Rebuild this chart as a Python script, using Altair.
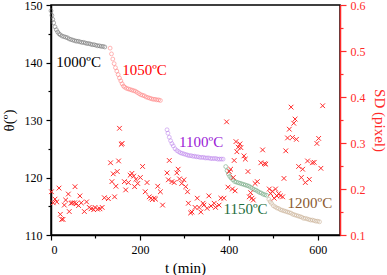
import altair as alt
import pandas as pd

# ---- contact angle series (t in min, theta in degrees) ----
t_1000 = [0, 2, 4, 6, 9, 12, 15, 18, 21, 25, 29, 33, 37, 41, 45, 49, 53, 57, 61, 65, 69, 73, 77, 81, 85,
          89, 93, 97, 101, 105, 109, 113, 117, 121]
th_1000 = [149.0, 148.2, 147.5, 146.9, 146.2, 145.7, 145.3, 145.0, 144.8, 144.6, 144.5, 144.4, 144.3,
           144.1, 144.0, 143.9, 143.8, 143.7, 143.7, 143.6, 143.5, 143.5, 143.4, 143.3, 143.3, 143.2,
           143.1, 143.1, 143.0, 142.9, 142.9, 142.8, 142.8, 142.7]

t_1050 = [133, 136, 139, 142, 145, 148, 151, 154, 157, 160, 163, 166, 170, 174, 178, 182, 186, 190, 194,
          198, 202, 206, 210, 214, 218, 222, 226, 230, 234, 238, 242, 246]
th_1050 = [142.5, 141.5, 140.6, 139.8, 139.1, 138.5, 137.9, 137.3, 136.8, 136.3, 135.9, 135.7, 135.5,
           135.4, 135.3, 135.2, 135.1, 135.0, 134.8, 134.6, 134.4, 134.3, 134.2, 134.0, 133.9, 133.8,
           133.7, 133.6, 133.6, 133.5, 133.5, 133.4]

t_1100 = [261, 263, 266, 269, 272, 275, 279, 283, 287, 291, 295, 299, 303, 307, 311, 315, 319, 323, 327,
          331, 335, 339, 343, 347, 351, 355, 359, 363, 367, 371, 375, 379, 383, 387]
th_1100 = [128.3, 127.7, 127.0, 126.4, 125.9, 125.5, 125.0, 124.7, 124.5, 124.3, 124.2, 124.1, 124.0,
           123.9, 123.8, 123.8, 123.7, 123.7, 123.6, 123.6, 123.5, 123.5, 123.5, 123.4, 123.4, 123.4,
           123.3, 123.3, 123.3, 123.3, 123.2, 123.2, 123.2, 123.2]

t_1150 = [393, 396, 399, 402, 405, 409, 413, 417, 421, 425, 429, 433, 437, 441, 445, 449, 453, 457, 461,
          465, 469, 473, 477, 481, 485]
th_1150 = [121.9, 121.2, 120.6, 120.2, 119.9, 119.6, 119.3, 119.2, 119.1, 119.0, 118.9, 118.8, 118.7,
           118.6, 118.5, 118.3, 118.1, 117.9, 117.8, 117.6, 117.4, 117.3, 117.1, 117.0, 116.9]

t_1200 = [490, 493, 496, 500, 504, 508, 512, 516, 520, 524, 528, 532, 536, 540, 544, 548, 552, 556, 560,
          564, 568, 572, 576, 580, 584, 588, 592, 596, 600, 604]
th_1200 = [116.2, 115.8, 115.5, 115.1, 114.9, 114.7, 114.6, 114.4, 114.3, 114.2, 114.1, 114.0, 113.9,
           113.8, 113.6, 113.5, 113.4, 113.3, 113.2, 113.1, 112.9, 112.9, 112.8, 112.7, 112.6, 112.6,
           112.5, 112.4, 112.4, 112.3]

# ---- SD series (t in min, SD in pixel) ----
t_sd = [1, 5, 9, 13, 18, 21, 24, 27, 30, 33, 39, 41, 45, 48, 53, 54, 57, 62, 65, 68, 75, 80, 86, 90, 96, 99,
        105, 110, 115, 120, 129, 134, 137, 140, 143, 146, 149, 152, 154, 158, 160, 165, 168, 174, 178, 182,
        186, 188, 191, 195, 201, 206, 212, 216, 221, 225, 228, 232, 235, 240, 246, 251, 261, 264, 266, 272,
        277, 283, 286, 289, 294, 299, 303, 307, 309, 314, 317, 324, 329, 333, 337, 342, 344, 351, 355, 360,
        367, 370, 378, 382, 389, 395, 398, 401, 404, 408, 410, 412, 414, 416, 418, 421, 425, 427, 434, 437,
        443, 446, 449, 452, 455, 459, 464, 472, 476, 480, 483, 491, 494, 498, 502, 505, 508, 512, 516, 521,
        524, 528, 532, 536, 540, 543, 546, 549, 552, 557, 563, 566, 572, 577, 581, 588, 592, 598, 602, 607, 611]
sd_val = [0.194, 0.170, 0.178, 0.172, 0.202, 0.145, 0.134, 0.134, 0.165, 0.176, 0.189, 0.151, 0.169, 0.170,
          0.170, 0.205, 0.168, 0.164, 0.185, 0.170, 0.151, 0.172, 0.160, 0.157, 0.155, 0.160, 0.156, 0.157,
          0.160, 0.181, 0.179, 0.257, 0.216, 0.233, 0.183, 0.206, 0.238, 0.261, 0.332, 0.297, 0.299, 0.216,
          0.198, 0.214, 0.230, 0.234, 0.228, 0.205, 0.221, 0.212, 0.225, 0.249, 0.194, 0.214, 0.183, 0.180,
          0.177, 0.180, 0.178, 0.206, 0.194, 0.165, 0.235, 0.220, 0.262, 0.216, 0.214, 0.235, 0.243, 0.222,
          0.212, 0.220, 0.205, 0.194, 0.169, 0.148, 0.150, 0.160, 0.180, 0.160, 0.150, 0.169, 0.165, 0.158,
          0.185, 0.163, 0.169, 0.160, 0.165, 0.180, 0.180, 0.346, 0.204, 0.238, 0.243, 0.200, 0.225, 0.262,
          0.196, 0.303, 0.281, 0.291, 0.298, 0.290, 0.272, 0.265, 0.238, 0.183, 0.192, 0.180, 0.176, 0.212,
          0.216, 0.257, 0.285, 0.255, 0.254, 0.200, 0.190, 0.195, 0.180, 0.200, 0.185, 0.190, 0.185, 0.183,
          0.223, 0.283, 0.311, 0.330, 0.378, 0.312, 0.343, 0.352, 0.308, 0.249, 0.225, 0.243, 0.214, 0.261,
          0.221, 0.257, 0.258, 0.299, 0.310, 0.245, 0.381]

# ---- series labels ----
series_names = ["1000ºC", "1050ºC", "1100ºC", "1150ºC", "1200ºC"]
label_t = [12, 160, 288, 388, 532]
label_theta = [140.1, 138.7, 126.2, 114.6, 115.6]

circle_colors = ["#6e6e6e", "#ff7a7a", "#bb80ec", "#6aa27a", "#c8ad90"]
label_colors = ["#000000", "#ff0000", "#9a1ad6", "#1d6e3e", "#8a5a30"]

rows = []
for name, ts, ths in zip(series_names, [t_1000, t_1050, t_1100, t_1150, t_1200],
                         [th_1000, th_1050, th_1100, th_1150, th_1200]):
    for t, th in zip(ts, ths):
        rows.append({"t": t, "theta": th, "series": name})
df_theta = pd.DataFrame(rows)
df_lab = pd.DataFrame({"t": label_t, "theta": label_theta, "series": series_names})
df_sd = pd.DataFrame({"t": t_sd, "sd": sd_val})

FONT = "Liberation Serif"

x_axis = alt.Axis(
    values=[0, 100, 200, 300, 400, 500, 600],
    labelExpr="datum.value % 200 === 0 ? datum.label : ''",
    tickSize={"condition": {"test": "datum.value % 200 === 0", "value": 5}, "value": 3},
    grid=False, domainColor="#000000", tickColor="#000000", labelColor="#000000",
    domainWidth=1.5, tickWidth=1.2,
    labelFont=FONT, labelFontSize=12, labelPadding=4,
    title="t (min)", titleFont=FONT, titleFontSize=15, titleFontWeight="normal",
    titleColor="#000000", titlePadding=5, titleX=134,
)
x_enc = alt.X("t:Q", scale=alt.Scale(domain=[0, 650], nice=False, zero=False), axis=x_axis)

y_axis = alt.Axis(
    values=[110, 115, 120, 125, 130, 135, 140, 145, 150],
    labelExpr="datum.value % 10 === 0 ? datum.label : ''",
    tickSize={"condition": {"test": "datum.value % 10 === 0", "value": 5}, "value": 3},
    grid=False, domainColor="#000000", tickColor="#000000", labelColor="#000000",
    domainWidth=1.5, tickWidth=1.2,
    labelFont=FONT, labelFontSize=12, labelPadding=4,
    title="θ(º)", titleFont=FONT, titleFontSize=15, titleFontWeight="normal",
    titleColor="#000000", titlePadding=8,
)
y_enc = alt.Y("theta:Q", scale=alt.Scale(domain=[110, 150], nice=False, zero=False), axis=y_axis)

circles = alt.Chart(df_theta).mark_point(shape="circle", filled=False, size=15, strokeWidth=0.8).encode(
    x=x_enc, y=y_enc,
    color=alt.Color("series:N", scale=alt.Scale(domain=series_names, range=circle_colors), legend=None),
)

labels = alt.Chart(df_lab).mark_text(align="left", baseline="middle", font=FONT, fontSize=15).encode(
    x=x_enc, y=y_enc, text="series:N",
    color=alt.Color("series:N", scale=alt.Scale(domain=series_names, range=label_colors), legend=None),
)

theta_layer = alt.layer(circles, labels).resolve_scale(color="independent")

sd_axis = alt.Axis(
    orient="right",
    values=[0.1, 0.15, 0.2, 0.25, 0.3, 0.35, 0.4, 0.45, 0.5, 0.55, 0.6],
    labelExpr="abs(datum.value * 10 - round(datum.value * 10)) < 0.001 ? format(datum.value, '.1f') : ''",
    tickSize={"condition": {"test": "abs(datum.value * 10 - round(datum.value * 10)) < 0.001", "value": 6},
              "value": 3},
    grid=False, domainColor="#ff2a2a", tickColor="#ff2a2a", labelColor="#ff2a2a",
    domainWidth=1.5, tickWidth=1.2,
    labelFont=FONT, labelFontSize=12, labelPadding=4,
    title="SD (pixel)", titleFont=FONT, titleFontSize=15, titleFontWeight="normal",
    titleColor="#ff2a2a", titlePadding=6,
)

sd_layer = alt.Chart(df_sd).mark_point(
    shape="M-1,-1L1,1M-1,1L1,-1", filled=False, stroke="#ff2a2a", strokeWidth=1, size=22, opacity=1
).encode(
    x=x_enc,
    y=alt.Y("sd:Q", scale=alt.Scale(domain=[0.1, 0.6], nice=False, zero=False), axis=sd_axis),
)

chart = alt.layer(theta_layer, sd_layer).resolve_scale(y="independent").properties(
    width=289, height=230,
    autosize=alt.AutoSizeParams(type="none"),
    padding={"left": 51, "top": 5, "right": 47, "bottom": 40},
    background="#ffffff",
).configure_view(stroke="#000000", strokeWidth=1.5).configure_axis(
    titleFontWeight="normal", labelFontWeight="normal"
)

chart.save("out.html", embed_options={"renderer": "svg", "actions": False})
